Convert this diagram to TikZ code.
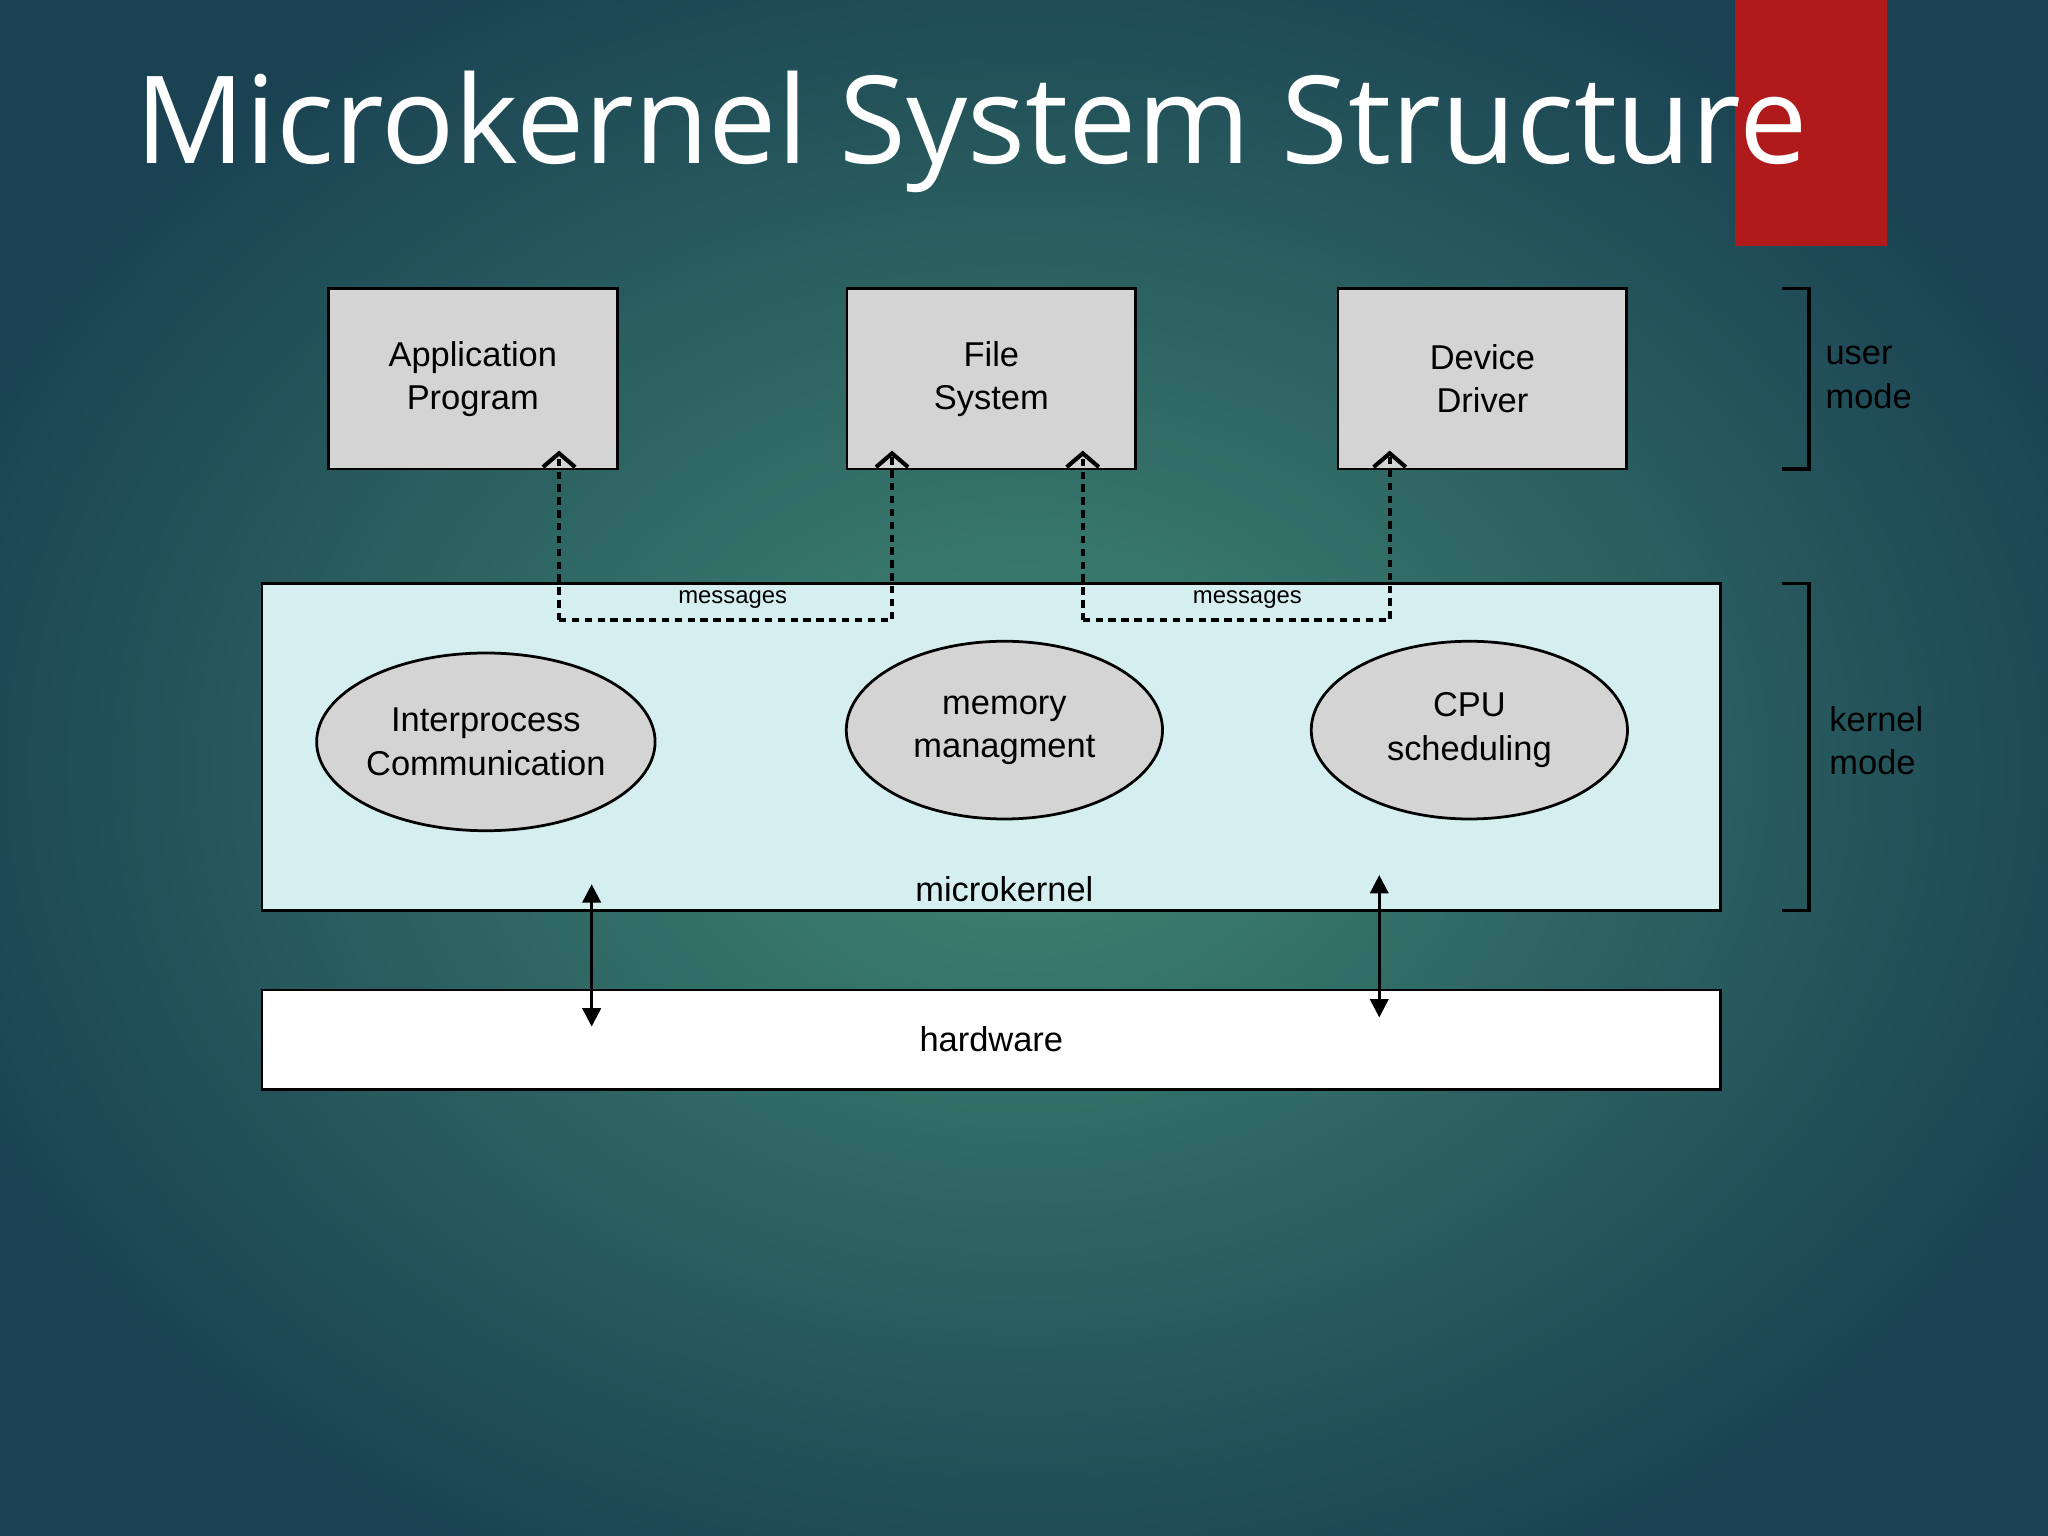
\documentclass[tikz,border=0pt]{standalone}
\usepackage{fontspec}
\setmainfont{Liberation Sans}
\newfontfamily\titlefont{Open Sans}
\usetikzlibrary{shapes.geometric,arrows.meta}
\definecolor{bgin}{RGB}{64,135,115}
\definecolor{bgout}{RGB}{26,66,82}
\definecolor{redbar}{RGB}{176,26,26}
\definecolor{mkfill}{RGB}{213,239,241}
\begin{document}
\begin{tikzpicture}[x=0.01cm,y=-0.01cm,
  box/.style={draw=black,line width=0.6pt,fill=black!17,minimum width=2.21cm,minimum height=1.38cm,inner sep=0,align=center,font=\fontsize{7.5pt}{9.4pt}\selectfont},
  ell/.style={ellipse,draw=black,line width=0.6pt,fill=black!17,minimum width=2.42cm,minimum height=1.36cm,inner sep=0,align=center,font=\fontsize{7.5pt}{9.4pt}\selectfont},
  msg/.style={line width=0.9pt,dash pattern=on 1.6pt off 1.2pt,-{Straight Barb[length=3pt,width=7pt,line width=0.9pt]}},
  dbl/.style={line width=0.6pt,{Triangle[length=4pt,width=4pt]}-{Triangle[length=4pt,width=4pt]}},
  lbl/.style={font=\fontsize{7.5pt}{9.4pt}\selectfont},
  side/.style={font=\fontsize{7.5pt}{9.4pt}\selectfont,align=left,anchor=west,inner sep=0}]
\useasboundingbox (0,0) rectangle (1568,1176);
\begin{scope}
\clip (0,0) rectangle (1568,1176);
\shade[inner color=bgin,outer color=bgout] (-100,-100) rectangle (1668,1276);
\end{scope}
\fill[redbar] (1328,0) rectangle (1445,188);
\node[anchor=base west,text=white,font=\titlefont\fontsize{26.5pt}{30pt}\selectfont,inner sep=0] (title) at (103,125) {Microkernel System Structure};
% kernel and hardware
\node[draw=black,line width=0.6pt,fill=mkfill,minimum width=11.16cm,minimum height=2.5cm,inner sep=0] (mk) at (759,572) {};
\node[lbl] (mklbl) at (769,681) {microkernel};
\node[draw=black,line width=0.6pt,fill=white,minimum width=11.16cm,minimum height=0.76cm,inner sep=0,lbl] (hw) at (759,796) {hardware};
% user boxes
\node[box] (app) at (362,290) {Application\\Program};
\node[box] (fs) at (759,290) {File\\System};
\node[box] (dd) at (1135,290) {Device\\Driver};
% ellipses
\node[ell] (ipc) at (372,568) {Interprocess\\Communication};
\node[ell] (mem) at (769,559) {memory\\managment};
\node[ell] (cpu) at (1125,559) {CPU\\scheduling};
% messages
\coordinate (a1) at (428,345); \coordinate (a2) at (683,345);
\coordinate (a3) at (829,345); \coordinate (a4) at (1064,345);
\coordinate (b1) at (428,475); \coordinate (b2) at (683,475);
\coordinate (b3) at (829,475); \coordinate (b4) at (1064,475);
\draw[msg] (b1) -- (a1);
\draw[msg] (b1) -- (b2) -- (a2);
\draw[msg] (b3) -- (a3);
\draw[msg] (b3) -- (b4) -- (a4);
\node[font=\fontsize{5.2pt}{6pt}\selectfont] (m1) at (561,459) {messages};
\node[font=\fontsize{5.2pt}{6pt}\selectfont] (m2) at (955,459) {messages};
% hardware arrows
\coordinate (h1) at (453,677); \coordinate (h2) at (453,786);
\coordinate (h3) at (1056,670); \coordinate (h4) at (1056,779);
\draw[dbl] (h1) -- (h2);
\draw[dbl] (h3) -- (h4);
% brackets
\draw[line width=0.7pt] (1364,221) -- (1385,221) -- (1385,359) -- (1364,359);
\draw[line width=0.7pt] (1364,447) -- (1385,447) -- (1385,697) -- (1364,697);
\node[side] (um) at (1397,289) {user\\mode};
\node[side] (km) at (1400,567) {kernel\\mode};
\end{tikzpicture}
\end{document}
